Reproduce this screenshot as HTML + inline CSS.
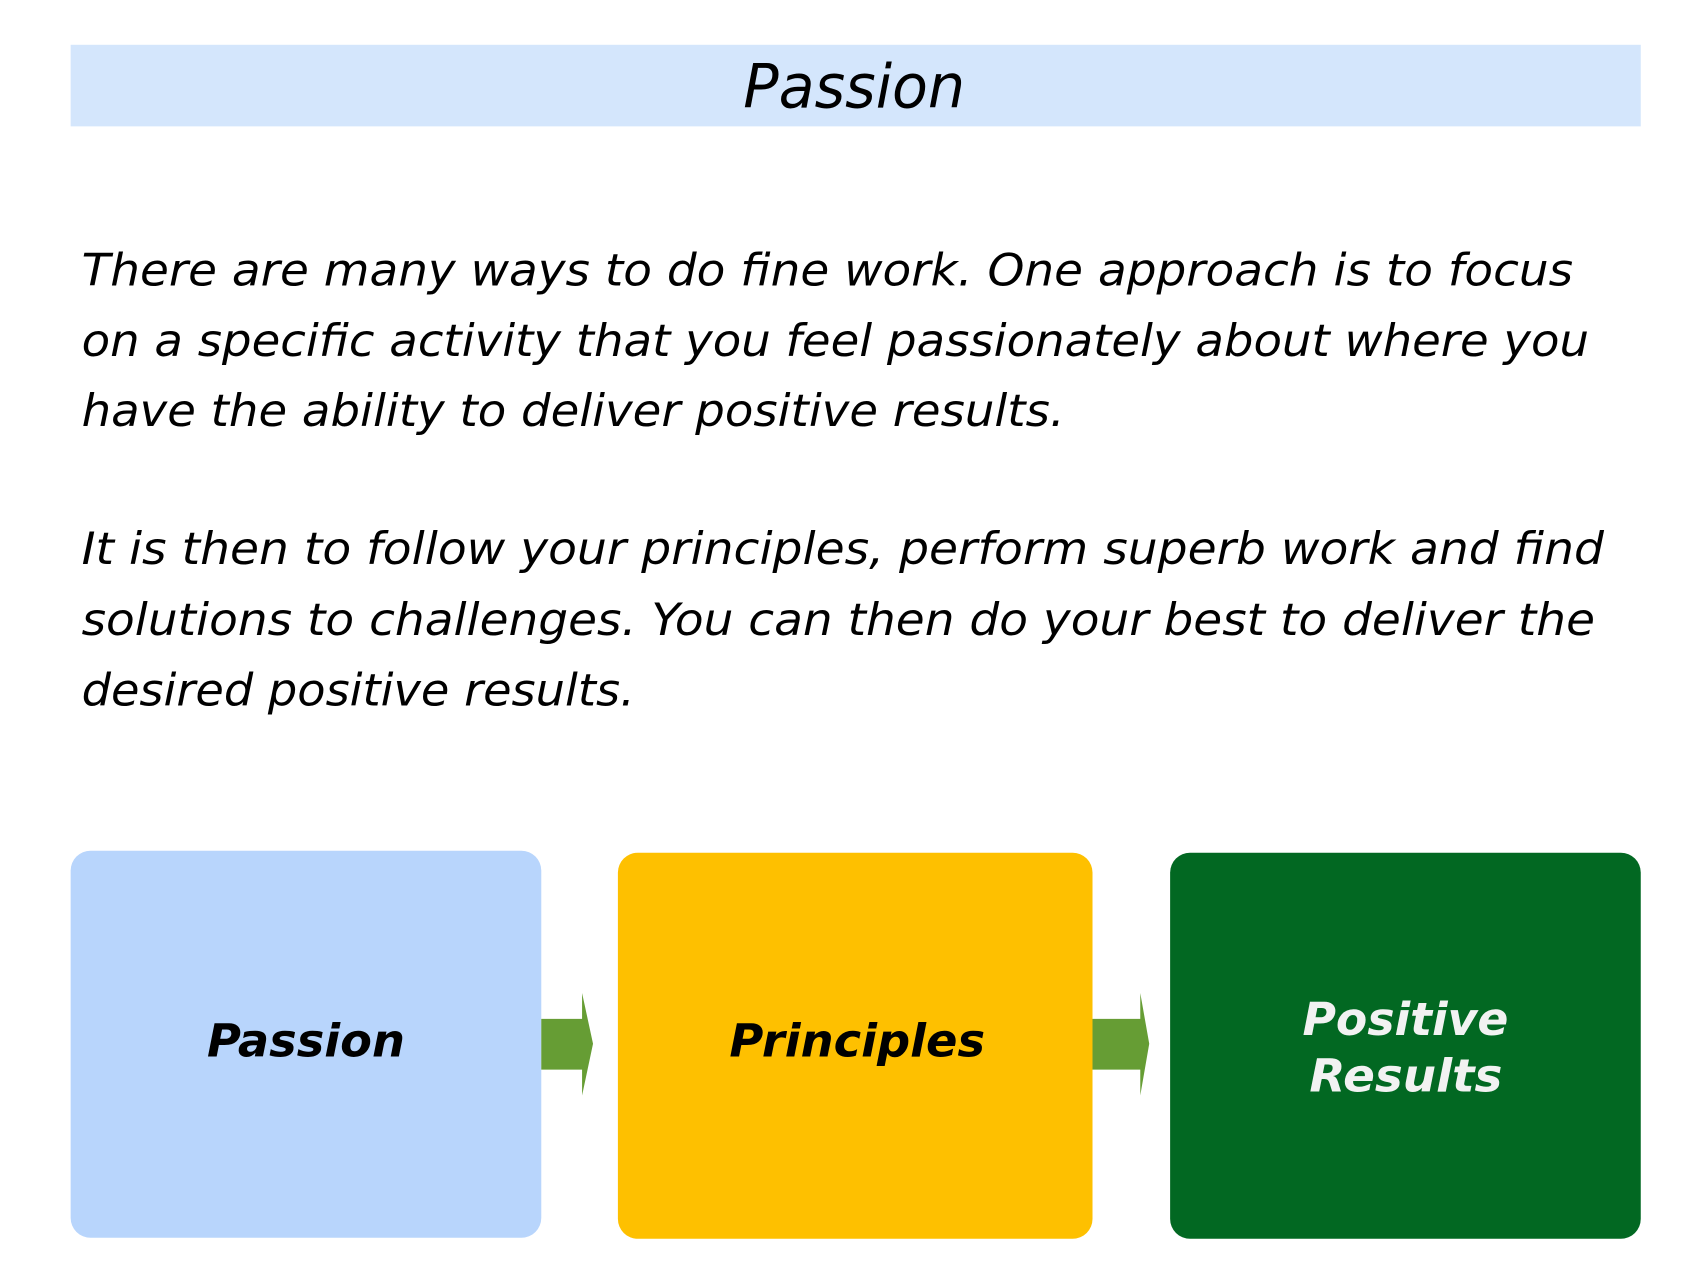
<!DOCTYPE html>
<html><head><meta charset="utf-8"><style>
html,body{margin:0;padding:0;background:#fff;}
svg{display:block;}
</style></head><body>
<svg width="1707" height="1280" viewBox="0 0 1707 1280" xmlns="http://www.w3.org/2000/svg">
<g transform="scale(0.995)">
<rect x="71" y="45" width="1578" height="82" fill="#d4e6fc"/>
<g font-family="DejaVu Sans, Verdana, sans-serif" font-style="italic" fill="#000">
<text x="747" y="108" font-size="61" textLength="223" lengthAdjust="spacingAndGlyphs">Passion</text>
<g font-size="44.5">
<text x="82" y="287" textLength="1499" lengthAdjust="spacingAndGlyphs">There are many ways to do fine work. One approach is to focus</text>
<text x="82" y="358" textLength="1515" lengthAdjust="spacingAndGlyphs">on a specific activity that you feel passionately about where you</text>
<text x="82" y="428" textLength="988" lengthAdjust="spacingAndGlyphs">have the ability to deliver positive results.</text>
<text x="82" y="567" textLength="1530" lengthAdjust="spacingAndGlyphs">It is then to follow your principles, perform superb work and find</text>
<text x="82" y="638" textLength="1521" lengthAdjust="spacingAndGlyphs">solutions to challenges. You can then do your best to deliver the</text>
<text x="82" y="709" textLength="556" lengthAdjust="spacingAndGlyphs">desired positive results.</text>
</g>
</g>
<rect x="71" y="855" width="473" height="389" rx="20" fill="#b8d5fc"/>
<rect x="621" y="857" width="477" height="388" rx="20" fill="#fec000"/>
<rect x="1176" y="857" width="473" height="388" rx="20" fill="#026822"/>
<polygon points="544,1024 585,1024 585,998 596,1049 585,1101 585,1075 544,1075" fill="#669d34"/>
<polygon points="1098,1024 1146,1024 1146,998 1155,1049 1146,1101 1146,1075 1098,1075" fill="#669d34"/>
<g font-family="DejaVu Sans, Verdana, sans-serif" font-style="italic" font-weight="bold" font-size="46">
<text x="208" y="1062" textLength="199" lengthAdjust="spacingAndGlyphs" fill="#000">Passion</text>
<text x="733" y="1062" textLength="257" lengthAdjust="spacingAndGlyphs" fill="#000">Principles</text>
<text x="1309" y="1040" textLength="207" lengthAdjust="spacingAndGlyphs" fill="#f2f2f2">Positive</text>
<text x="1316" y="1097" textLength="194" lengthAdjust="spacingAndGlyphs" fill="#f2f2f2">Results</text>
</g>
</g>
</svg>
</body></html>
